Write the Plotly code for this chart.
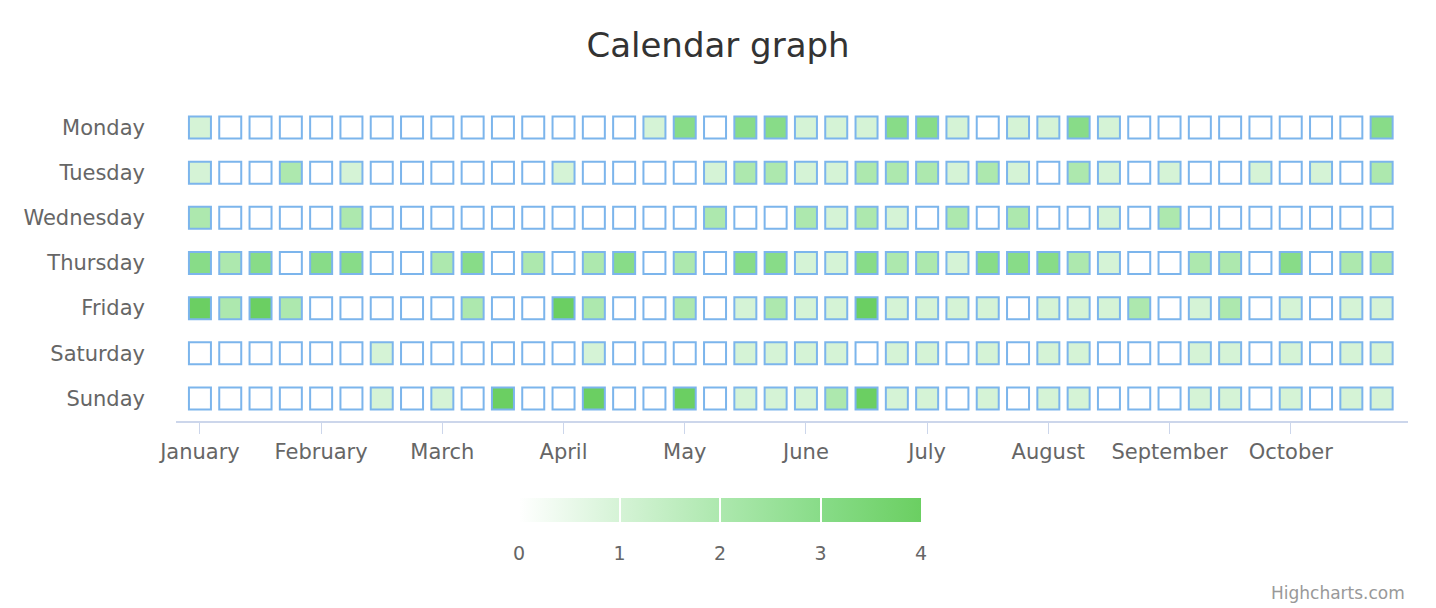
import plotly.graph_objects as go

days = ["Monday", "Tuesday", "Wednesday", "Thursday", "Friday", "Saturday", "Sunday"]
months = ["January", "February", "March", "April", "May", "June",
          "July", "August", "September", "October"]
month_start_week = [0, 4, 8, 12, 16, 20, 24, 28, 32, 36]

monday =    [1,0,0,0,0,0,0,0,0,0,0,0,0,0,0,1,3,0,3,3,1,1,1,3,3,1,0,1,1,3,1,0,0,0,0,0,0,0,0,3]
tuesday =   [1,0,0,2,0,1,0,0,0,0,0,0,1,0,0,0,0,1,2,2,1,1,2,2,2,1,2,1,0,2,1,0,1,0,0,1,0,1,0,2]
wednesday = [2,0,0,0,0,2,0,0,0,0,0,0,0,0,0,0,0,2,0,0,2,1,2,1,0,2,0,2,0,0,1,0,2,0,0,0,0,0,0,0]
thursday =  [3,2,3,0,3,3,0,0,2,3,0,2,0,2,3,0,2,0,3,3,1,1,3,2,2,1,3,3,3,2,1,0,0,2,2,0,3,0,2,2]
friday =    [4,2,4,2,0,0,0,0,0,2,0,0,4,2,0,0,2,0,1,2,1,1,4,1,1,1,1,0,1,1,1,2,0,1,2,0,1,0,1,1]
saturday =  [0,0,0,0,0,0,1,0,0,0,0,0,0,1,0,0,0,0,1,1,1,1,0,1,1,0,1,0,1,1,0,0,0,1,1,0,1,0,1,1]
sunday =    [0,0,0,0,0,0,1,0,1,0,4,0,0,4,0,0,4,0,1,1,1,2,4,1,1,0,1,0,1,1,0,0,0,1,1,0,1,0,1,1]

week_values = [monday, tuesday, wednesday, thursday, friday, saturday, sunday]
color_ticks = [0, 1, 2, 3, 4]

xs, ys, cs, names = [], [], [], []
for r, row in enumerate(week_values):
    for c, v in enumerate(row):
        xs.append(c)
        ys.append(r)
        cs.append(v)
        names.append(days[r])

FONT = "DejaVu Sans"
W, H = 1436, 608
ML, MR, MT, MB = 176, 28, 105, 187
PW = W - ML - MR
PH = H - MT - MB

colorscale = [[0.0, "#ffffff"], [0.25, "#d5f3d6"], [0.5, "#ade8ae"],
              [0.75, "#88dc88"], [1.0, "#6bcf62"]]

cb_left, cb_right, cb_top = 519, 921, 498
cb_common = dict(
    orientation="h",
    x=((cb_left + cb_right) / 2 - ML) / PW, xanchor="center",
    y=(MT + PH - cb_top) / PH, yanchor="top",
    len=cb_right - cb_left, lenmode="pixels",
    thickness=24, thicknessmode="pixels",
    xpad=0, ypad=0, outlinewidth=0,
    tickvals=color_ticks,
)

fig = go.Figure()

# colour legend labels (drawn underneath)
fig.add_trace(go.Scatter(
    x=[None], y=[None], mode="markers", hoverinfo="skip",
    marker=dict(
        color=[0], cmin=0, cmax=4, colorscale=colorscale, showscale=True,
        colorbar=dict(**cb_common, ticks="outside", ticklen=16,
                      tickcolor="rgba(0,0,0,0)",
                      tickfont=dict(family=FONT, size=19, color="#666666")),
    ),
))

# calendar cells with the colour bar separators on top
fig.add_trace(go.Scatter(
    x=xs, y=ys, mode="markers",
    customdata=names,
    hovertemplate="%{customdata}, week %{x}: %{marker.color}<extra></extra>",
    marker=dict(
        symbol="square", size=22, color=cs, cmin=0, cmax=4,
        colorscale=colorscale,
        line=dict(color="#7cb5ec", width=2),
        colorbar=dict(**cb_common, ticks="inside", ticklen=24,
                      tickcolor="#ffffff", tickwidth=2, showticklabels=False),
    ),
))

fig.update_layout(
    width=W, height=H,
    margin=dict(l=ML, r=MR, t=MT, b=MB),
    paper_bgcolor="#ffffff", plot_bgcolor="#ffffff",
    showlegend=False,
    title=dict(text="Calendar graph", x=((W / 2) - ML) / PW, xref="paper",
               xanchor="center", y=1 - 45 / H, yref="container", yanchor="middle",
               font=dict(family=FONT, size=34, color="#333333")),
    font=dict(family=FONT, color="#666666"),
)

fig.update_xaxes(
    range=[-0.79, 39.87], tickvals=month_start_week, ticktext=months,
    showgrid=False, zeroline=False, showline=True, linecolor="#ccd6eb", linewidth=2,
    ticks="outside", ticklen=11, tickcolor="#ccd6eb", tickwidth=1,
    tickfont=dict(family=FONT, size=21, color="#666666"),
)
fig.update_yaxes(
    range=[6.5, -0.5], tickvals=list(range(len(days))), ticktext=days,
    showgrid=False, zeroline=False, showline=False, ticks="",
    ticklabelstandoff=30,
    tickfont=dict(family=FONT, size=21, color="#666666"),
)

fig.add_annotation(
    text="Highcharts.com", xref="paper", yref="paper",
    x=(1407 - ML) / PW, y=(MT + PH - 593) / PH, xanchor="right", yanchor="middle",
    showarrow=False, font=dict(family=FONT, size=17, color="#999999"),
)

fig.write_html("out.html", config={"displayModeBar": False},
               post_script="document.body.style.margin='0px';")
